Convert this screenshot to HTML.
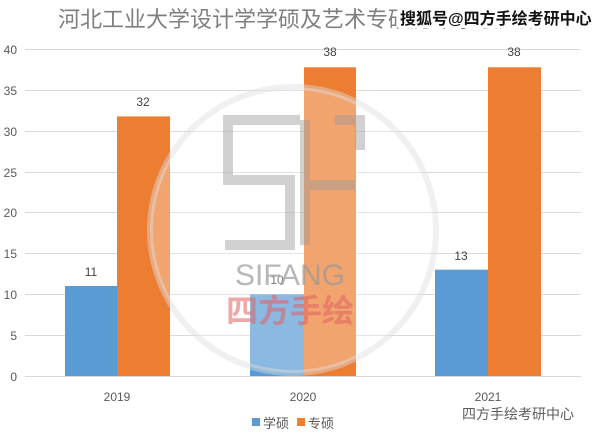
<!DOCTYPE html>
<html><head><meta charset="utf-8"><style>
body{margin:0;background:#fff;}
svg text{font-family:"Liberation Sans","Noto Sans CJK SC",sans-serif;}
</style></head><body>
<svg width="600" height="441" viewBox="0 0 600 441" xmlns="http://www.w3.org/2000/svg">
<rect width="600" height="441" fill="#fff"/>
<text x="300" y="27" font-size="22" fill="#7f7f7f" text-anchor="middle">河北工业大学设计学学硕及艺术专硕历年录取人数</text>
<rect x="398" y="6" width="196" height="22" fill="#fff"/>
<text x="400" y="24" font-size="16" font-weight="bold" fill="#111">搜狐号@四方手绘考研中心</text>
<g stroke="#d9d9d9" stroke-width="1">
<line x1="25" x2="581" y1="49.5" y2="49.5"/><line x1="25" x2="581" y1="90.5" y2="90.5"/>
<line x1="25" x2="581" y1="131.5" y2="131.5"/><line x1="25" x2="581" y1="172.5" y2="172.5"/>
<line x1="25" x2="581" y1="212.5" y2="212.5"/><line x1="25" x2="581" y1="253.5" y2="253.5"/>
<line x1="25" x2="581" y1="294.5" y2="294.5"/><line x1="25" x2="581" y1="335.5" y2="335.5"/>
<line x1="25" x2="581" y1="376.5" y2="376.5"/>
</g>
<g font-size="12" fill="#595959" text-anchor="end">
<text x="17" y="54">40</text><text x="17" y="95">35</text><text x="17" y="136">30</text>
<text x="17" y="177">25</text><text x="17" y="217">20</text><text x="17" y="258">15</text>
<text x="17" y="299">10</text><text x="17" y="340">5</text><text x="17" y="381">0</text>
</g>
<g>
<rect x="65" y="286" width="52" height="90" fill="#5b9bd5"/>
<rect x="117" y="116.4" width="53" height="259.6" fill="#ed7d31"/>
<rect x="250" y="294.3" width="54" height="81.7" fill="#5b9bd5"/>
<rect x="304" y="67.3" width="52" height="308.7" fill="#ed7d31"/>
<rect x="435" y="269.7" width="53" height="106.3" fill="#5b9bd5"/>
<rect x="488" y="67.3" width="53" height="308.7" fill="#ed7d31"/>
</g>
<g font-size="12" fill="#404040" text-anchor="middle">
<text x="91" y="276">11</text><text x="143" y="106">32</text>
<text x="277" y="284">10</text><text x="330" y="56">38</text>
<text x="461" y="260">13</text><text x="514" y="56">38</text>
</g>
<circle cx="293" cy="230" r="143" fill="#ffffff" fill-opacity="0.3" stroke="#ddd" stroke-opacity="0.45" stroke-width="6"/>
<g fill="none" stroke="#9a9a9a" stroke-opacity="0.45" stroke-width="10">
<path d="M300 120 H228 V180 H290 V245 H225"/>
<path d="M305 120 V245 M305 185 H355 M335 120 H360 V150"/>
</g>
<text x="290" y="285" font-size="30" fill="#999" fill-opacity="0.7" text-anchor="middle">SIFANG</text>
<text x="290" y="322" font-size="32" font-weight="bold" fill="#e06060" fill-opacity="0.55" text-anchor="middle">四方手绘</text>
<g font-size="12" fill="#595959" text-anchor="middle">
<text x="117" y="401">2019</text><text x="303" y="401">2020</text><text x="488" y="401">2021</text>
</g>
<rect x="252" y="418" width="8" height="8" fill="#5b9bd5"/>
<text x="263" y="428" font-size="13" fill="#595959">学硕</text>
<rect x="297" y="418" width="8" height="8" fill="#ed7d31"/>
<text x="308" y="428" font-size="13" fill="#595959">专硕</text>
<text x="462" y="419" font-size="14" fill="#333" fill-opacity="0.8">四方手绘考研中心</text>
</svg>
</body></html>
